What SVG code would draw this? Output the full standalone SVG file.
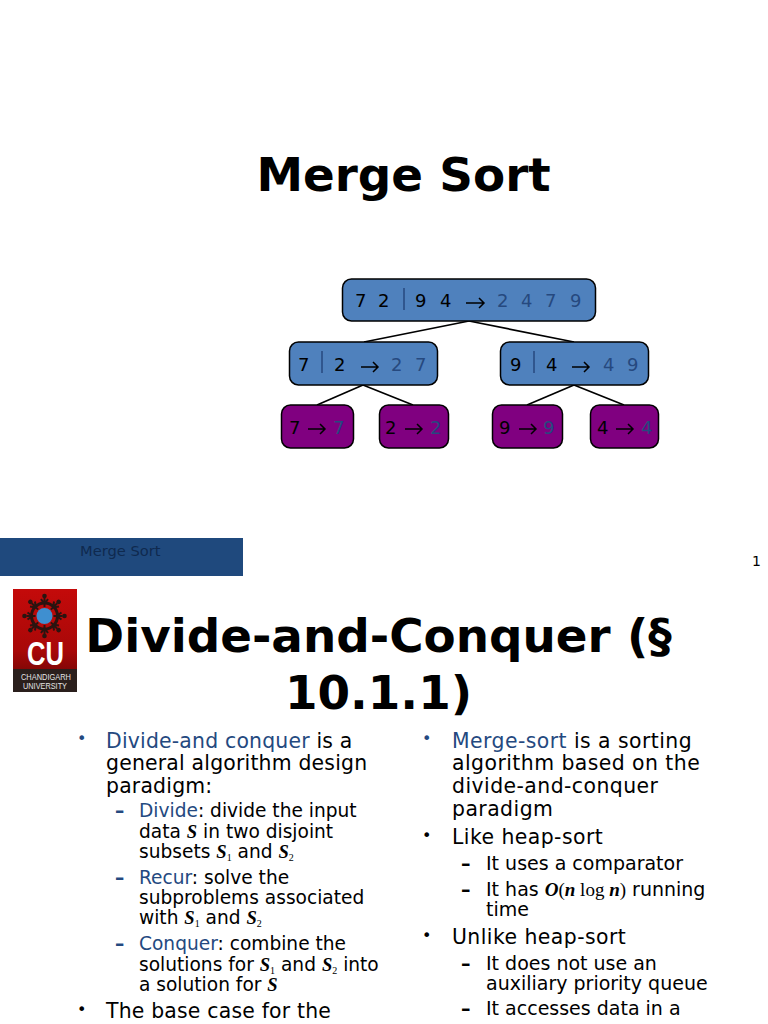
<svg xmlns="http://www.w3.org/2000/svg" width="768" height="1024" viewBox="0 0 768 1024">
<defs><linearGradient id="red" x1="0" y1="0" x2="0" y2="1"><stop offset="0" stop-color="#c40a0a"/><stop offset="0.6" stop-color="#a80808"/><stop offset="1" stop-color="#5a0505"/></linearGradient>
<g id="fig"><circle cx="0" cy="-20" r="2.300" fill="#2a1410"/><path d="M-3.500 -17L0 -12L3.500 -17M0 -18V-9" fill="none" stroke="#2a1410" stroke-width="2"/></g></defs>
<style>
text{font-family:"DejaVu Sans",sans-serif;fill:#000}
.title{font-weight:700;text-anchor:middle;font-size:46.800px}
.b{fill:#4f81bd;stroke:#000;stroke-width:1.5}
.p{fill:#800080;stroke:#000;stroke-width:1.5}
.n{font-size:18px}
.d{fill:#26497f}
.l{font-size:20.400px;letter-spacing:.2px}
.r{font-size:20.400px;letter-spacing:.45px}
.s{font-size:18.600px}
.t{font-size:19px}
.bu{font-size:16px}
.da{font-weight:700}
.a{fill:#24497f}
.m{font-family:"Liberation Serif",serif;font-weight:700;font-style:italic}
.f{font-family:"Liberation Serif",serif}
.u{font-family:"Liberation Serif",serif;font-size:10px}
.sep{stroke:#26497f;stroke-width:1.5}
.ar{fill:none;stroke:#000;stroke-width:1.5}
line.c{stroke:#000;stroke-width:1.7}
.w{fill:#e4e4e4;font-family:"Liberation Sans",sans-serif;font-size:9px}
</style>
<rect width="768" height="1024" fill="#fff"/>
<text class="title" x="403.500" y="191">Merge Sort</text>
<g id="connectors">
<line class="c" x1="469" y1="321" x2="364" y2="342"/><line class="c" x1="469" y1="321" x2="574" y2="342"/>
<line class="c" x1="363" y1="385" x2="317" y2="405"/><line class="c" x1="363" y1="385" x2="413" y2="405"/>
<line class="c" x1="574" y1="385" x2="527" y2="405"/><line class="c" x1="574" y1="385" x2="624" y2="405"/>
</g>
<g id="node-root"><rect class="b" x="342.500" y="279" width="253" height="42" rx="9"/><text class="n" x="355" y="307">7</text><text class="n" x="378" y="307">2</text><line class="sep" x1="404" y1="288" x2="404" y2="310"/><text class="n" x="415" y="307">9</text><text class="n" x="440" y="307">4</text><path class="ar" d="M466 303H484M479 298L484 303L479 308"/><text class="n d" x="497" y="307">2</text><text class="n d" x="521" y="307">4</text><text class="n d" x="545" y="307">7</text><text class="n d" x="570" y="307">9</text></g>
<g id="node-left"><rect class="b" x="289.500" y="342" width="148" height="43" rx="9"/><text class="n" x="298" y="371">7</text><line class="sep" x1="322" y1="351" x2="322" y2="373"/><text class="n" x="334" y="371">2</text><path class="ar" d="M361 367H378M373 362L378 367L373 372"/><text class="n d" x="391" y="371">2</text><text class="n d" x="415" y="371">7</text></g>
<g id="node-right"><rect class="b" x="500.500" y="342" width="148" height="43" rx="9"/><text class="n" x="510" y="371">9</text><line class="sep" x1="534" y1="351" x2="534" y2="373"/><text class="n" x="546" y="371">4</text><path class="ar" d="M572 367H589M584 362L589 367L584 372"/><text class="n d" x="603" y="371">4</text><text class="n d" x="627" y="371">9</text></g>
<g id="leaf-7"><rect class="p" x="281.500" y="405" width="72" height="43" rx="9"/><text class="n" x="289" y="434">7</text><path class="ar" d="M308 429H325M320 424L325 429L320 434"/><text class="n d" x="333" y="434">7</text></g>
<g id="leaf-2"><rect class="p" x="379.500" y="405" width="69" height="43" rx="9"/><text class="n" x="385" y="434">2</text><path class="ar" d="M405 429H422M417 424L422 429L417 434"/><text class="n d" x="430" y="434">2</text></g>
<g id="leaf-9"><rect class="p" x="492.500" y="405" width="70" height="43" rx="9"/><text class="n" x="499" y="434">9</text><path class="ar" d="M519 429H536M531 424L536 429L531 434"/><text class="n d" x="543" y="434">9</text></g>
<g id="leaf-4"><rect class="p" x="590.500" y="405" width="68" height="43" rx="9"/><text class="n" x="597" y="434">4</text><path class="ar" d="M616 429H633M628 424L633 429L628 434"/><text class="n d" x="641" y="434">4</text></g>
<rect x="0" y="538" width="243" height="38" fill="#1f497d"/>
<text x="80" y="556" font-size="14.700" style="fill:#0f2a4f">Merge Sort</text>
<text x="752" y="566" font-size="14">1</text>
<g id="logo">
<rect x="13" y="589" width="64" height="103" fill="url(#red)"/>
<rect x="13" y="669" width="64" height="23" fill="#2a1f1c"/>
<g transform="translate(44.500 616)">
<circle r="13" fill="none" stroke="#2a1410" stroke-width="3"/>
<use href="#fig"/><use href="#fig" transform="rotate(45)"/><use href="#fig" transform="rotate(90)"/><use href="#fig" transform="rotate(135)"/><use href="#fig" transform="rotate(180)"/><use href="#fig" transform="rotate(225)"/><use href="#fig" transform="rotate(270)"/><use href="#fig" transform="rotate(315)"/>
<circle r="8" fill="#3f8fd0"/>
</g>
<text x="45.500" y="665" font-size="33" font-weight="700" text-anchor="middle" style="fill:#fff;font-family:'Liberation Sans',sans-serif" textLength="37" lengthAdjust="spacingAndGlyphs">CU</text>
<text class="w" x="46" y="680" text-anchor="middle" textLength="50" lengthAdjust="spacingAndGlyphs">CHANDIGARH</text>
<text class="w" x="45" y="688.500" text-anchor="middle" textLength="44" lengthAdjust="spacingAndGlyphs">UNIVERSITY</text>
</g>
<text class="title" x="378.500" y="652">Divide-and-Conquer (§</text>
<text class="title" x="378.500" y="709">10.1.1)</text>
<g id="left-col">
<text class="bu a" x="77" y="744">•</text>
<text class="l" x="106" y="748"><tspan class="a">Divide-and conquer</tspan> is a</text>
<text class="l" x="106" y="770">general algorithm design</text>
<text class="l" x="106" y="793">paradigm:</text>
<text class="s a da" x="115" y="817">–</text>
<text class="s" x="139" y="817"><tspan class="a">Divide</tspan>: divide the input</text>
<text class="s" x="139" y="838">data <tspan class="m">S</tspan> in two disjoint</text>
<text class="s" x="139" y="858">subsets <tspan class="m">S</tspan><tspan class="u" dy="3">1</tspan><tspan dy="-3"> and </tspan><tspan class="m">S</tspan><tspan class="u" dy="3">2</tspan></text>
<text class="s a da" x="115" y="884">–</text>
<text class="s" x="139" y="884"><tspan class="a">Recur</tspan>: solve the</text>
<text class="s" x="139" y="904">subproblems associated</text>
<text class="s" x="139" y="924">with <tspan class="m">S</tspan><tspan class="u" dy="3">1</tspan><tspan dy="-3"> and </tspan><tspan class="m">S</tspan><tspan class="u" dy="3">2</tspan></text>
<text class="s a da" x="115" y="950">–</text>
<text class="s" x="139" y="950"><tspan class="a">Conquer</tspan>: combine the</text>
<text class="s" x="139" y="971">solutions for <tspan class="m">S</tspan><tspan class="u" dy="3">1</tspan><tspan dy="-3"> and </tspan><tspan class="m">S</tspan><tspan class="u" dy="3">2</tspan><tspan dy="-3"> into</tspan></text>
<text class="s" x="139" y="991">a solution for <tspan class="m">S</tspan></text>
<text class="bu" x="77" y="1015">•</text>
<text class="l" x="106" y="1018">The base case for the</text>
</g>
<g id="right-col">
<text class="bu a" x="422" y="744">•</text>
<text class="r" x="452" y="748"><tspan class="a">Merge-sort</tspan> is a sorting</text>
<text class="r" x="452" y="770">algorithm based on the</text>
<text class="r" x="452" y="793">divide-and-conquer</text>
<text class="r" x="452" y="816">paradigm</text>
<text class="bu" x="422" y="841">•</text>
<text class="r" x="452" y="844">Like heap-sort</text>
<text class="t da" x="461" y="870">–</text>
<text class="t" x="486" y="870">It uses a comparator</text>
<text class="t da" x="461" y="896">–</text>
<text class="t" x="486" y="896">It has <tspan class="m">O</tspan><tspan class="f">(</tspan><tspan class="m">n</tspan><tspan class="f"> log </tspan><tspan class="m">n</tspan><tspan class="f">)</tspan> running</text>
<text class="t" x="486" y="916">time</text>
<text class="bu" x="422" y="941">•</text>
<text class="r" x="452" y="944">Unlike heap-sort</text>
<text class="t da" x="461" y="970">–</text>
<text class="t" x="486" y="970">It does not use an</text>
<text class="t" x="486" y="990">auxiliary priority queue</text>
<text class="t da" x="461" y="1015">–</text>
<text class="t" x="486" y="1015">It accesses data in a</text>
</g>
</svg>
